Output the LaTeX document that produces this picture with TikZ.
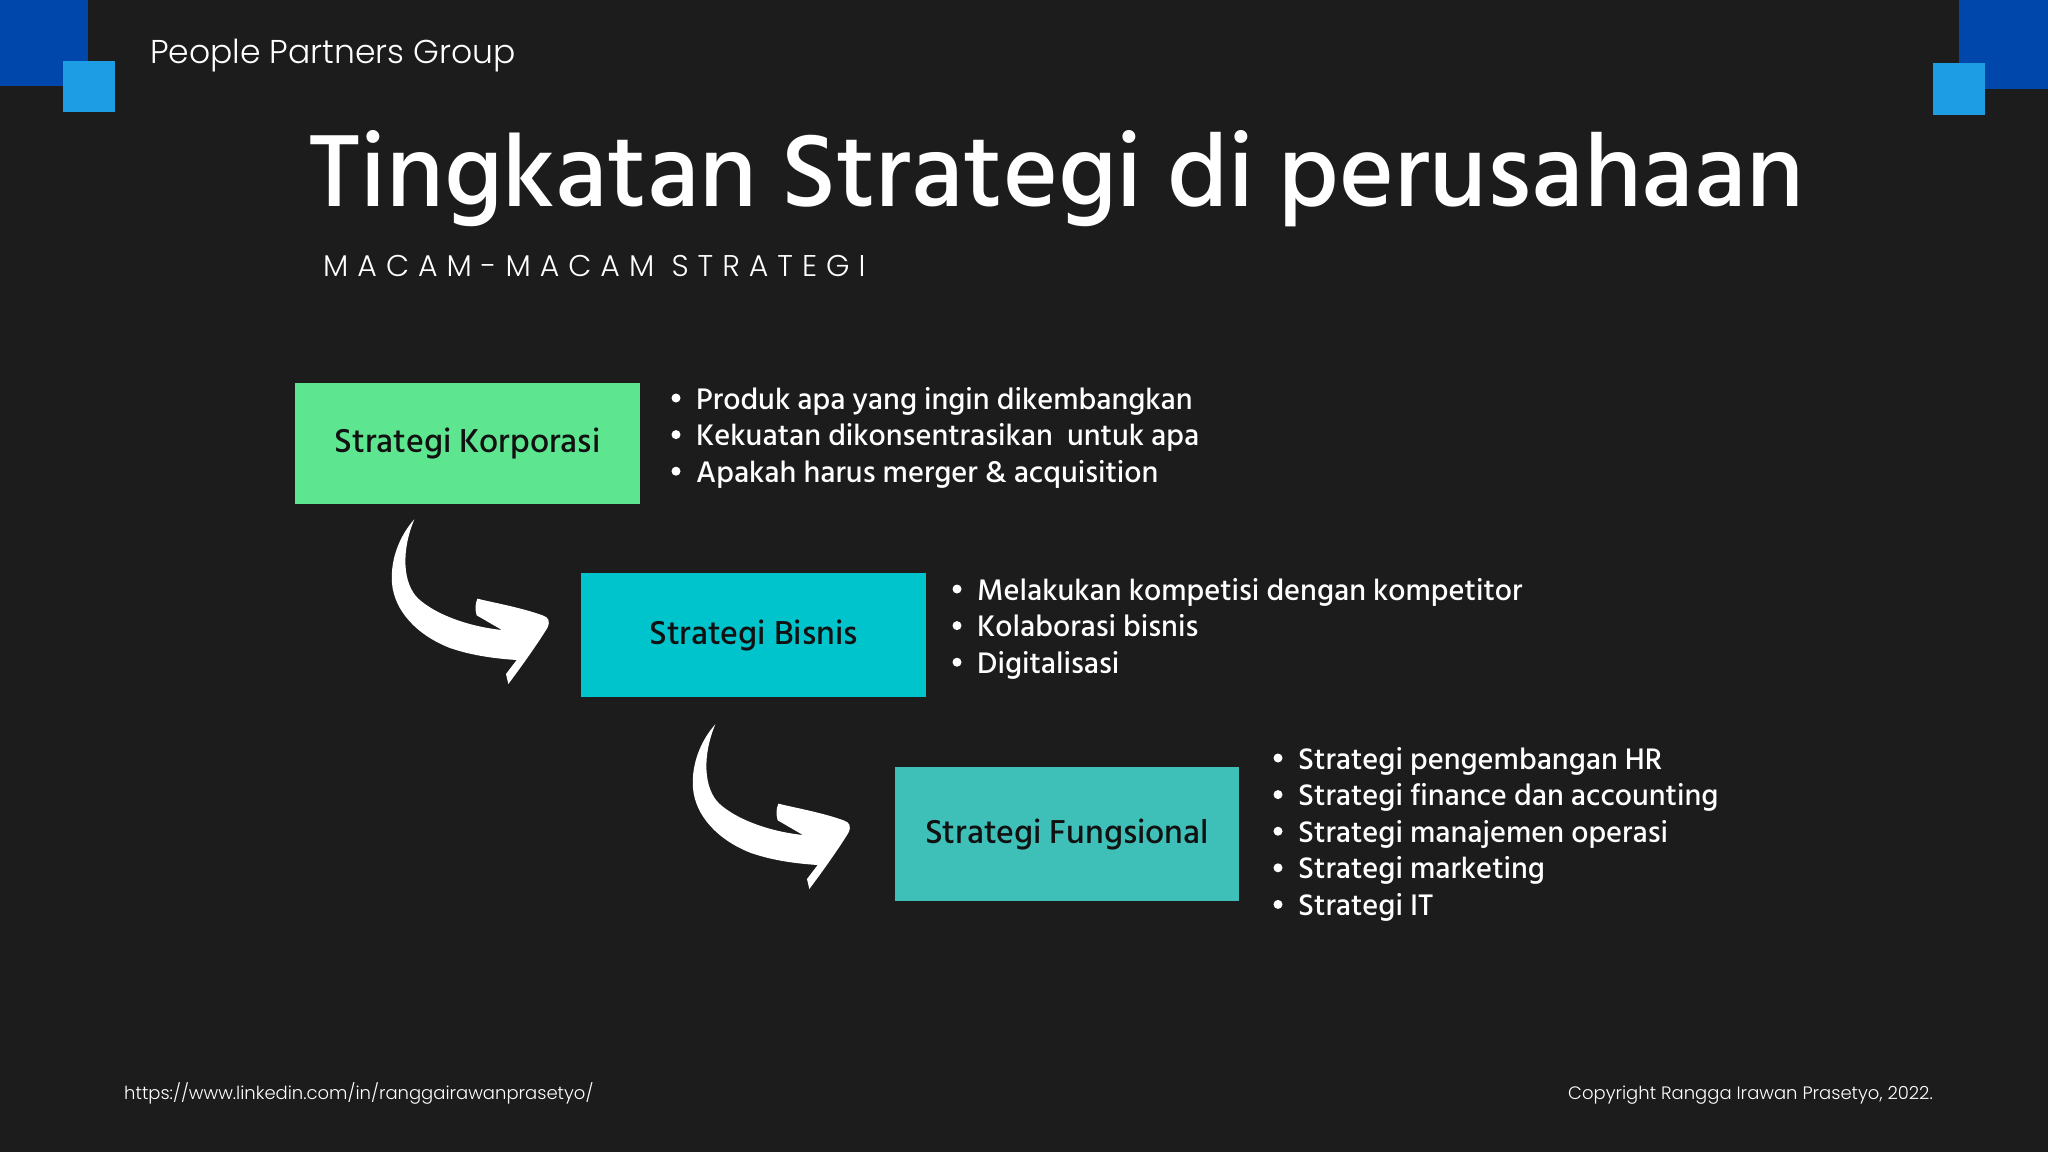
\documentclass[tikz,border=0pt]{standalone}
\usepackage{fontspec}
\newfontfamily\hind{Hind Siliguri}
\newfontfamily\hindmed{Hind Siliguri}[UprightFont=* Medium]
\newfontfamily\pop{Poppins}
\newfontfamily\poplight{Poppins}[UprightFont=* Light]
\definecolor{bg}{RGB}{28,28,29}
\definecolor{dblue}{RGB}{0,71,171}
\definecolor{lblue}{RGB}{29,158,228}
\definecolor{cone}{RGB}{94,229,144}
\definecolor{ctwo}{RGB}{0,196,204}
\definecolor{cthree}{RGB}{62,192,185}
\definecolor{dark}{RGB}{17,17,17}
\tikzset{
  levelbox/.style={rectangle, inner sep=0, draw=none, text=dark,
    font=\hindmed\fontsize{34}{34}\selectfont},
  item/.style={anchor=base west, inner sep=0, text=white,
    font=\hindmed\fontsize{30.5}{30.5}\selectfont},
  small/.style={inner sep=0, text=white, font=\poplight\fontsize{18}{18}\selectfont},
  curvearrow/.pic={
    \fill[white, scale=1/3] (133,58) .. controls (95,100) and (60,170) .. (66,250)
      .. controls (73,332) and (140,405) .. (240,444)
      .. controls (310,468) and (380,476) .. (440,480)
      -- (408,522) -- (415,552)
      .. controls (460,492) and (502,432) .. (532,384)
      .. controls (542,362) and (535,352) .. (518,346)
      .. controls (450,322) and (380,310) .. (322,296)
      .. controls (314,315) and (316,332) .. (320,346)
      -- (396,390)
      .. controls (300,380) and (200,346) .. (145,296)
      .. controls (97,250) and (94,150) .. (133,58) -- cycle;
  }
}
\begin{document}
\begin{tikzpicture}[x=1pt, y=-1pt]
\fill[bg] (0,0) rectangle (2048,1152);
\useasboundingbox (0,0) rectangle (2048,1152);
% corner squares
\fill[dblue] (0,0) rectangle (88,86);
\fill[lblue] (63,61) rectangle (115,112);
\fill[dblue] (1959,0) rectangle (2048,89);
\fill[lblue] (1933,63) rectangle (1985,115);
% header
\node[anchor=base west, inner sep=0, text=white, font=\poplight\fontsize{33}{33}\selectfont] (brand) at (150,63) {People Partners Group};
\node[anchor=base west, inner sep=0, text=white, font=\hindmed\fontsize{105}{105}\selectfont] (title) at (308,206) {Tingkatan Strategi di perusahaan};
\node[anchor=base west, inner sep=0, text=white, font=\poplight\fontsize{30}{30}\selectfont\addfontfeature{LetterSpace=30}] (subtitle) at (323,276) {MACAM-MACAM STRATEGI};
% boxes
\node[levelbox, fill=cone, minimum width=345, minimum height=121] (korp) at (467.5,443.5) {Strategi Korporasi};
\node[levelbox, fill=ctwo, minimum width=345, minimum height=124] (bisnis) at (753.5,635) {Strategi Bisnis};
\node[levelbox, fill=cthree, minimum width=344, minimum height=134] (fungs) at (1067,834) {Strategi Fungsional};
% arrows
\pic at (370,500) {curvearrow};
\pic at (671,705) {curvearrow};
% list 1
\foreach \txt [count=\i] in {Produk apa yang ingin dikembangkan, Kekuatan dikonsentrasikan\ \ untuk apa, Apakah harus merger \& acquisition}{
  \node[item] (la\i) at (696,{409+36.6*(\i-1)}) {\txt};
  \fill[white] (676,{398+36.6*(\i-1)}) circle (4.5);
}
% list 2
\foreach \txt [count=\i] in {Melakukan kompetisi dengan kompetitor, Kolaborasi bisnis, Digitalisasi}{
  \node[item] (lb\i) at (977,{600+36.6*(\i-1)}) {\txt};
  \fill[white] (957,{589+36.6*(\i-1)}) circle (4.5);
}
% list 3
\foreach \txt [count=\i] in {Strategi pengembangan HR, Strategi finance dan accounting, Strategi manajemen operasi, Strategi marketing, Strategi IT}{
  \node[item] (lc\i) at (1298,{769+36.6*(\i-1)}) {\txt};
  \fill[white] (1278,{758+36.6*(\i-1)}) circle (4.5);
}
% footer
\node[small, anchor=base west] (link) at (124,1099) {https://www.linkedin.com/in/ranggairawanprasetyo/};
\node[small, anchor=base east] (copy) at (1933,1099) {Copyright Rangga Irawan Prasetyo, 2022.};
\end{tikzpicture}
\end{document}
